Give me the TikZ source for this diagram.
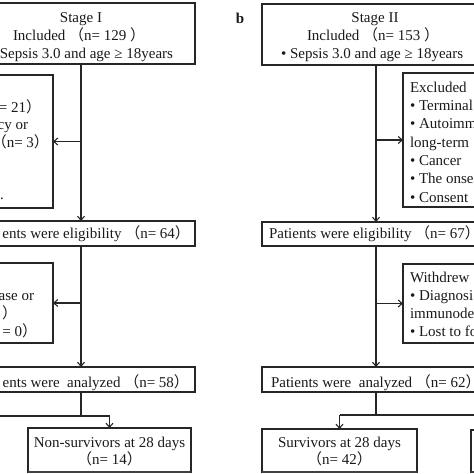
\documentclass[tikz,border=0pt]{standalone}
\usepackage{fontspec}
\setmainfont{Liberation Serif}
\newfontfamily\cjk{Noto Sans CJK SC}
\usetikzlibrary{arrows.meta,calc}
\newcommand{\lpar}{{\cjk （}}
\newcommand{\rpar}{{\cjk ）}}
\begin{document}
\begin{tikzpicture}[x=1pt,y=-1pt,
 box/.style={draw=black!85,line width=1.2pt,rectangle,inner sep=0pt,outer sep=0pt},
 txt/.style={inner sep=0pt,outer sep=0pt,font=\fontsize{15}{18}\selectfont,text=black!90},
 arr/.style={draw=black!85,line width=1.1pt,-{Straight Barb[length=4pt,width=7pt]}},
 ln/.style={draw=black!85,line width=1.1pt},
 thickbottom/.style={draw=black!75,line width=2.6pt}]
\useasboundingbox (0,0) rectangle (474,474);
\clip (0,0) rectangle (474,474);
% ---------- panel a (cropped) ----------
\node[box,minimum width=228pt,minimum height=61pt] (st1) at (81,33.5) {};
\node[box,minimum width=163pt,minimum height=133pt] (ex1) at (-28.5,141.5) {};
\node[box,minimum width=228pt,minimum height=25pt] (el1) at (81,233.5) {};
\node[box,minimum width=163pt,minimum height=80pt] (wd1) at (-28.5,303) {};
\node[box,minimum width=228pt,minimum height=25pt] (an1) at (81,379.5) {};
\node[box,minimum width=163pt,minimum height=44pt] (ns1) at (109.5,450) {};
\draw[thickbottom] (ns1.south west) -- (ns1.south east);
\coordinate (j1) at (81,416);
\coordinate (w1) at (-30,416);
\draw[arr] (st1.south) -- (el1.north);
\draw[arr] (st1.south |- ex1.east) -- (ex1.east);
\draw[arr] (el1.south) -- (an1.north);
\draw[arr] (el1.south |- wd1.east) -- (wd1.east);
\draw[ln] (an1.south) -- (j1);
\draw[ln] (w1) -- (ns1.north |- j1);
\draw[arr] (ns1.north |- j1) -- (ns1.north);
% texts a
\node[txt,anchor=base] (t1) at (81,22) {Stage I};
\node[txt,anchor=base west] (t2) at (13,40) {Included \lpar n=\ 129 \rpar};
\node[txt,anchor=base east] (t3) at (173,58) {Sepsis 3.0 and age ≥ 18years};
\node[txt,anchor=base east] (t4) at (41,112) {= 21\rpar};
\node[txt,anchor=base east] (t5) at (28,129) {cy or};
\node[txt,anchor=base east] (t6) at (49,147) {\lpar n= 3\rpar};
\node[txt,anchor=base east] (t7) at (4,199) {.};
\node[txt,anchor=base east] (t8) at (190,238) {ents were eligibility \lpar n= 64\rpar};
\node[txt,anchor=base east] (t9) at (34,300) {ase or};
\node[txt,anchor=base east] (t10) at (17,318) {\rpar};
\node[txt,anchor=base east] (t11) at (37,336) {= 0\rpar};
\node[txt,anchor=base east] (t12) at (189,387) {ents were\ \ analyzed \lpar n= 58\rpar};
\node[txt,anchor=base] (t13) at (109.5,447) {Non-survivors at 28 days};
\node[txt,anchor=base] (t14) at (109.5,464) {\lpar n= 14\rpar};
% ---------- panel b ----------
\node[txt,anchor=base,font=\fontsize{15}{18}\selectfont\bfseries] (lb) at (240,23) {b};
\node[box,minimum width=228pt,minimum height=61pt] (st2) at (376,34.5) {};
\node[box,minimum width=163pt,minimum height=134pt] (ex2) at (484.5,140) {};
\node[box,minimum width=228pt,minimum height=24pt] (el2) at (376,234) {};
\node[box,minimum width=163pt,minimum height=79pt] (wd2) at (484.5,303.5) {};
\node[box,minimum width=228pt,minimum height=25pt] (an2) at (376,379.5) {};
\node[box,minimum width=155pt,minimum height=43pt] (sv2) at (339.5,450.5) {};
\node[box,minimum width=163pt,minimum height=42pt] (ns2) at (552.5,451) {};
\draw[thickbottom] (sv2.south west) -- (sv2.south east);
\draw[thickbottom] (ns2.south west) -- (ns2.south east);
\coordinate (j2) at (376,415);
\coordinate (e2) at (560,415);
\draw[arr] (st2.south) -- (el2.north);
\draw[arr] (st2.south |- ex2.west) -- (ex2.west);
\draw[arr] (el2.south) -- (an2.north);
\draw[arr] (el2.south |- wd2.west) -- (wd2.west);
\draw[ln] (an2.south) -- (j2);
\draw[ln] (sv2.north |- j2) -- (e2);
\draw[arr] (sv2.north |- j2) -- (sv2.north);
% texts b
\node[txt,anchor=base] (u1) at (375,22) {Stage II};
\node[txt,anchor=base west] (u2) at (307,40) {Included \lpar n=\ 153 \rpar};
\node[txt,anchor=base west] (u3) at (281,58) {• Sepsis 3.0 and age ≥ 18years};
\node[txt,anchor=base west] (u4) at (410,92) {Excluded};
\node[txt,anchor=base west] (u5) at (410,110) {• Terminal};
\node[txt,anchor=base west] (u6) at (410,128) {• Autoimm};
\node[txt,anchor=base west] (u7) at (410,147) {long-term};
\node[txt,anchor=base west] (u8) at (410,165) {• Cancer};
\node[txt,anchor=base west] (u9) at (410,183) {• The onse};
\node[txt,anchor=base west] (u10) at (410,202) {• Consent};
\node[txt,anchor=base west] (u11) at (269,238) {Patients were eligibility \lpar n= 67\rpar};
\node[txt,anchor=base west] (u12) at (410,282) {Withdrew};
\node[txt,anchor=base west] (u13) at (410,300) {• Diagnosi};
\node[txt,anchor=base west] (u14) at (410,318) {immunode};
\node[txt,anchor=base west] (u15) at (410,336) {• Lost to fo};
\node[txt,anchor=base west] (u16) at (271,387) {Patients were\ \ analyzed \lpar n= 62\rpar};
\node[txt,anchor=base] (u17) at (339.5,447) {Survivors at 28 days};
\node[txt,anchor=base] (u18) at (339.5,464) {\lpar n= 42\rpar};
\end{tikzpicture}
\end{document}
